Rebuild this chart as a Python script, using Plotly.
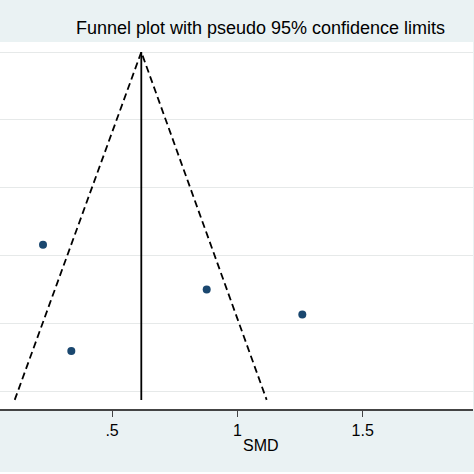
import plotly.graph_objects as go

# study estimates (SMD) and their standard errors
smd = [0.2246, 0.3375, 0.8776, 1.259]
se = [0.1421, 0.2203, 0.1750, 0.1934]

# pooled estimate and pseudo 95% limits (ends of the funnel)
pooled_smd = [0.6167, 0.6167]
pooled_se = [0.0, 0.2564]
funnel_smd = [0.1117, 0.6167, 1.1169]
funnel_se = [0.2564, 0.0, 0.2564]

x_ticks = [0.5, 1, 1.5]
x_labels = [".5", "1", "1.5"]
y_grid = [0, 0.05, 0.1, 0.15, 0.2, 0.25]

W, H = 474, 474
L, R, T, B = 0, 1, 42, 65
plot_h = H - T - B

fig = go.Figure()

fig.add_trace(go.Scatter(
	x=funnel_smd, y=funnel_se, mode="lines",
	line=dict(color="black", width=1.8, dash="7px,4px"),
	hoverinfo="skip"
))
fig.add_trace(go.Scatter(
	x=pooled_smd, y=pooled_se, mode="lines",
	line=dict(color="black", width=1.8),
	hoverinfo="skip"
))
fig.add_trace(go.Scatter(
	x=smd, y=se, mode="markers",
	marker=dict(color="#1a476f", size=8, line=dict(width=0))
))

font = "Liberation Sans, Arial, sans-serif"

def py(pix):
	# pixel row of the page -> paper y
	return (H - B - pix) / plot_h

fig.update_layout(
	width=W, height=H,
	margin=dict(l=L, r=R, t=T, b=B, pad=0),
	paper_bgcolor="#eaf2f3",
	plot_bgcolor="white",
	showlegend=False,
	font=dict(family=font, color="black", size=16),
	title=dict(
		text="Funnel plot with pseudo 95% confidence limits",
		x=260.5 / W, xanchor="center",
		y=1 - 28 / H, yanchor="middle",
		font=dict(size=18, family=font, color="black")
	),
	annotations=[dict(
		text="SMD", xref="paper", yref="paper",
		x=260.5 / (W - L - R), y=py(445),
		xanchor="center", yanchor="middle", showarrow=False,
		font=dict(size=16, family=font, color="black")
	)],
	shapes=[dict(
		type="rect", xref="paper", yref="paper", layer="above",
		x0=-0.01, x1=1.01, y0=py(474), y1=py(472),
		fillcolor="white", line=dict(width=0)
	)]
)

fig.update_xaxes(
	range=[0.053, 1.94],
	tickvals=x_ticks, ticktext=x_labels,
	ticks="outside", ticklen=6, tickwidth=1.3, tickcolor="#444444",
	showline=True, linecolor="#444444", linewidth=1.8,
	showgrid=False, zeroline=False,
	tickfont=dict(size=16, family=font, color="black")
)
fig.update_yaxes(
	range=[0.2631, -0.0074],
	tickvals=y_grid, showticklabels=False, ticks="",
	showgrid=True, gridcolor="#e6e9e9", gridwidth=1,
	showline=False, zeroline=False
)

# page has an 8px body margin by default; drop it so the figure sits at 0,0
fig.write_html(
	"out.html",
	config={"displayModeBar": False},
	post_script="document.body.style.margin='0';"
)
